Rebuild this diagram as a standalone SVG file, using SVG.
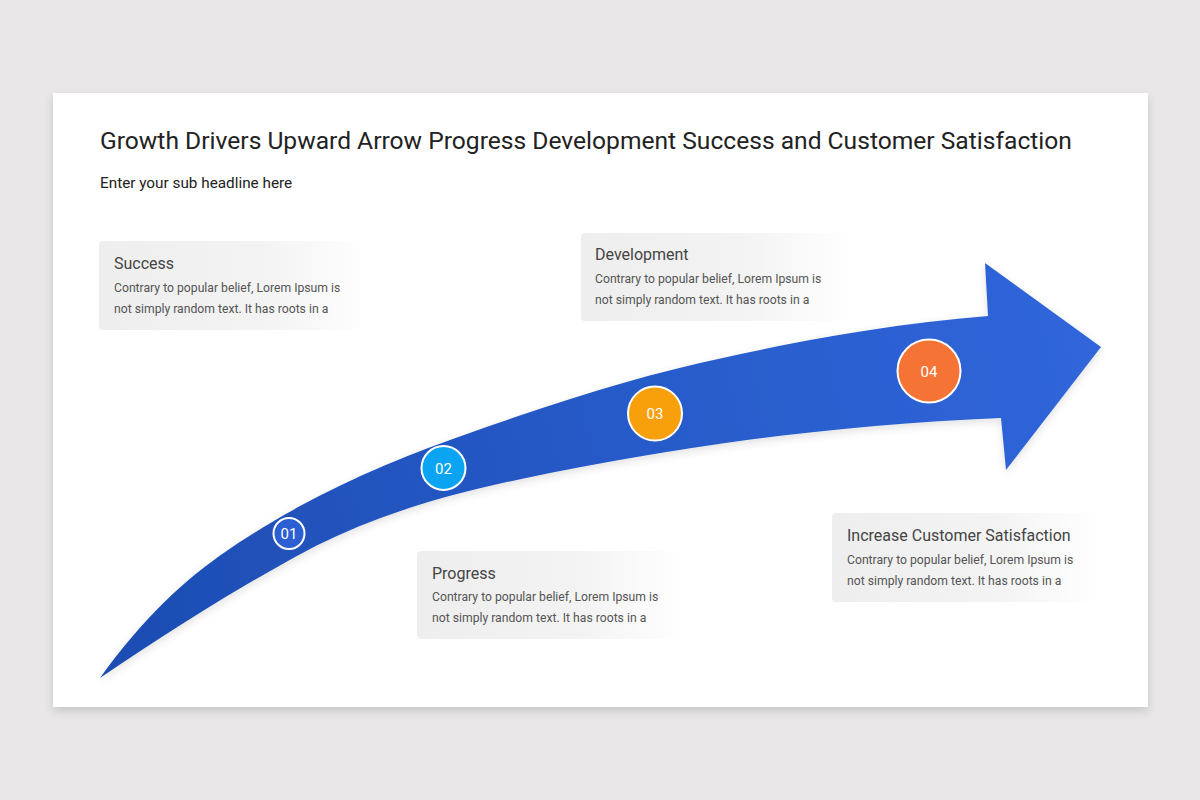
<svg xmlns="http://www.w3.org/2000/svg" width="1200" height="800" viewBox="0 0 1200 800">
<defs>
<linearGradient id="boxg" x1="0" y1="0" x2="1" y2="0">
<stop offset="0" stop-color="#eeeeee"/>
<stop offset="0.6" stop-color="#f3f3f3"/>
<stop offset="1" stop-color="#ffffff"/>
</linearGradient>
<linearGradient id="arrowg" x1="100" y1="600" x2="1100" y2="350" gradientUnits="userSpaceOnUse">
<stop offset="0" stop-color="#1d4db3"/>
<stop offset="1" stop-color="#3066db"/>
</linearGradient>
<filter id="cardsh" x="-5%" y="-5%" width="110%" height="115%">
<feDropShadow dx="0" dy="4" stdDeviation="5" flood-color="#000" flood-opacity="0.15"/>
</filter>
<filter id="arrsh" x="-5%" y="-5%" width="110%" height="115%">
<feDropShadow dx="0" dy="3" stdDeviation="4" flood-color="#000" flood-opacity="0.12"/>
</filter>
<style>
.title{font-family:Roboto,"Liberation Sans",sans-serif;font-size:24.6px;fill:#222;}
.sub{font-family:Roboto,"Liberation Sans",sans-serif;font-size:15.3px;fill:#222;}
.bt{font-family:Roboto,"Liberation Sans",sans-serif;font-size:16px;fill:#444;}
.bd{font-family:Roboto,"Liberation Sans",sans-serif;font-size:12.2px;fill:#555;}
.num{font-family:Roboto,"Liberation Sans",sans-serif;font-size:15px;fill:#fff;text-anchor:middle;}
.box{fill:url(#boxg);}
.circ{stroke:#fff;stroke-width:2;}
</style>
</defs>
<rect x="0" y="0" width="1200" height="800" fill="#e9e7e8"/>
<rect x="53" y="93" width="1095" height="614" fill="#ffffff" filter="url(#cardsh)"/>
<text class="title" x="100" y="149">Growth Drivers Upward Arrow Progress Development Success and Customer Satisfaction</text>
<text class="sub" x="100" y="188">Enter your sub headline here</text>

<g id="connectors">
<path id="arrow" filter="url(#arrsh)" fill="url(#arrowg)" d="M100,678 C142.67,618.3 185.33,579 228,550 C302,499.7 376,466.6 450,440 C533.33,410 616.67,382.2 700,363 C796,340.9 892,323.7 988,316 L985,263 L1101,347 L1006,470 L1001,418 C850.67,424 700.33,442.9 550,473 C465,490 380,510.25 295,557 C230,592.75 165,633.8 100,678 Z"/>
</g>

<g id="step01">
<circle class="circ" cx="289" cy="533.5" r="15.5" fill="#2b5fd2"/>
<text class="num" x="289" y="539">01</text>
</g>
<g id="step02">
<circle class="circ" cx="443.5" cy="468" r="22" fill="#0aa4f2"/>
<text class="num" x="443.5" y="473.5">02</text>
</g>
<g id="step03">
<circle class="circ" cx="655" cy="413.5" r="27" fill="#f8a00b"/>
<text class="num" x="655" y="419">03</text>
</g>
<g id="step04">
<circle class="circ" cx="929" cy="371" r="31.5" fill="#f57335"/>
<text class="num" x="929" y="376.5">04</text>
</g>

<g id="success">
<rect class="box" x="99" y="241" width="270" height="89" rx="4"/>
<text class="bt" x="114" y="269">Success</text>
<text class="bd" x="114" y="292">Contrary to popular belief, Lorem Ipsum is</text>
<text class="bd" x="114" y="313">not simply random text.  It has roots in a</text>
</g>
<g id="development">
<rect class="box" x="581" y="233" width="270" height="88" rx="4"/>
<text class="bt" x="595" y="260">Development</text>
<text class="bd" x="595" y="283">Contrary to popular belief, Lorem Ipsum is</text>
<text class="bd" x="595" y="304">not simply random text.  It has roots in a</text>
</g>
<g id="progress">
<rect class="box" x="417" y="551" width="270" height="88" rx="4"/>
<text class="bt" x="432" y="579">Progress</text>
<text class="bd" x="432" y="601">Contrary to popular belief, Lorem Ipsum is</text>
<text class="bd" x="432" y="622">not simply random text.  It has roots in a</text>
</g>
<g id="satisfaction">
<rect class="box" x="832" y="513" width="270" height="89" rx="4"/>
<text class="bt" x="847" y="541">Increase Customer Satisfaction</text>
<text class="bd" x="847" y="564">Contrary to popular belief, Lorem Ipsum is</text>
<text class="bd" x="847" y="585">not simply random text.  It has roots in a</text>
</g>
</svg>
